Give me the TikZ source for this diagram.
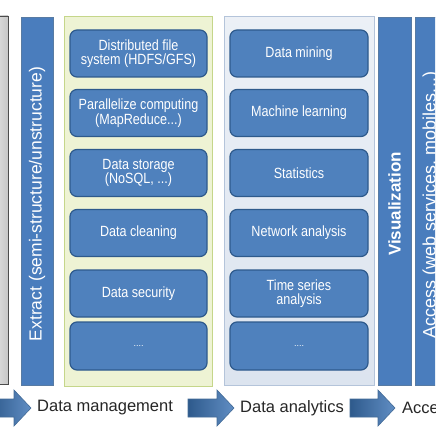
\documentclass[tikz,border=0pt]{standalone}
\usepackage{fontspec}
\setmainfont{Liberation Sans}
\newfontfamily\narrowfont[FakeStretch=0.85]{Liberation Sans}

\definecolor{boxblue}{HTML}{4F81BD}
\definecolor{boxline}{HTML}{2E5A8C}
\definecolor{barblue}{HTML}{4A7DBD}
\definecolor{mgmtfill}{HTML}{EEF3D4}
\definecolor{mgmtline}{HTML}{C5D68A}
\definecolor{anafill}{HTML}{DCE4EF}
\definecolor{analine}{HTML}{B4C4DA}

\tikzset{
  task/.style={draw=boxline, line width=1.2pt, fill=boxblue, rounded corners=7pt,
    minimum width=137pt, minimum height=47pt, inner sep=0pt, align=center,
    text=white, font=\narrowfont\fontsize{14.8}{13.5}\selectfont},
  stage/.style={draw=boxline!80, line width=0.8pt, fill=barblue, minimum width=368pt,
    minimum height=32pt, inner sep=0pt, rotate=90},
  stagetext/.style={rotate=90, inner sep=0pt, text=white},
  flow/.style={draw=boxline!90, line width=0.6pt, left color=boxline, right color=boxblue!90},
  caption/.style={anchor=west, inner sep=0pt, text=black!85,
    font=\fontsize{16.5}{18}\selectfont}
}

\begin{document}
\begin{tikzpicture}[x=1pt,y=-1pt]
    \useasboundingbox (0,0) rectangle (435,435);
    \clip (0,0) rectangle (435,435);

    \draw[draw=gray!60!black, line width=0.8pt, left color=white, right color=gray!45]
      (-20,16) rectangle (8,384);

    \node[stage] (Ex) at (37,201) {};
    \node[stage, minimum height=33pt] (Vis) at (394.5,201) {};
    \node[stage, minimum height=33pt] (Acc) at (431.5,201) {};
    \node[stagetext, font=\fontsize{17.5}{18}\selectfont] (ExT) at (37,204) {Extract (semi-structure/unstructure)};
    \node[stagetext, font=\bfseries\fontsize{17}{18}\selectfont] (VisT) at (394.5,204) {Visualization};
    \node[stagetext, font=\fontsize{18}{18}\selectfont] (AccT) at (431,205) {Access (web services, mobiles...)};

    \draw[draw=mgmtline, line width=1pt, fill=mgmtfill] (64,17) rectangle (212,386);
    \draw[draw=analine, line width=1pt, top color=anafill!55, bottom color=anafill] (224,17) rectangle (374,385);

    \node[task] (D1) at (138.5,53.5) {Distributed file\\system (HDFS/GFS)};
    \node[task] (D2) at (138.5,113) {Parallelize computing\\(MapReduce...)};
    \node[task] (D3) at (138.5,173) {Data storage\\(NoSQL, ...)};
    \node[task] (D4) at (138.5,233) {Data cleaning};
    \node[task] (D5) at (138.5,293.5) {Data security};
    \node[task, minimum height=48pt, font=\fontsize{9}{10}\selectfont] (D6) at (138.5,346) {....};

    \node[task, minimum width=138pt] (A1) at (299,53.5) {Data mining};
    \node[task, minimum width=138pt] (A2) at (299,113) {Machine learning};
    \node[task, minimum width=138pt] (A3) at (299,173) {Statistics};
    \node[task, minimum width=138pt] (A4) at (299,233) {Network analysis};
    \node[task, minimum width=138pt] (A5) at (299,293.5) {Time series\\analysis};
    \node[task, minimum width=138pt, minimum height=48pt, font=\fontsize{9}{10}\selectfont] (A6) at (299,346) {....};

    \draw[flow]
      (-10,399) -- (14,399) -- (14,390) -- (31,408) -- (14,426) -- (14,417) -- (-10,417) -- cycle;
    \draw[flow]
      (188,399) -- (217,399) -- (217,390) -- (234,408) -- (217,426) -- (217,417) -- (188,417) -- cycle;
    \draw[flow]
      (350,399) -- (378,399) -- (378,390) -- (395,408) -- (378,426) -- (378,417) -- (350,417) -- cycle;

    \node[caption] (Mg) at (37,408) {Data management};
    \node[caption] (An) at (240,408) {Data analytics};
    \node[caption] (Ac) at (402,408) {Access};
  \end{tikzpicture}
\end{document}
